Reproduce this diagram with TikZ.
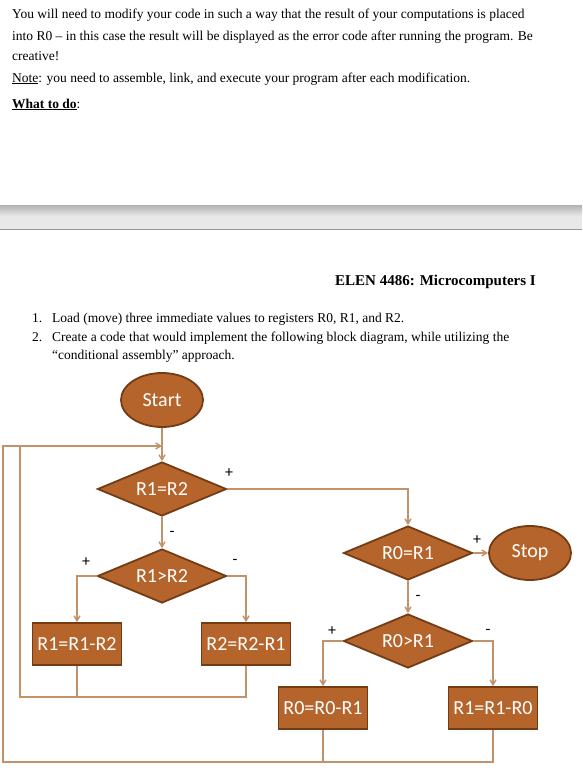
\documentclass[tikz,border=0pt]{standalone}
\usepackage{fontspec}
\setmainfont{Liberation Serif}
\newfontfamily\calfont{Carlito}
\usetikzlibrary{shapes.geometric,arrows.meta}
\definecolor{fillbrown}{RGB}{181,100,44}
\definecolor{edgebrown}{RGB}{115,60,18}
\definecolor{linebrown}{RGB}{196,146,104}
\begin{document}
\begin{tikzpicture}[x=1pt,y=-1pt,
  txt/.style={anchor=base west,inner sep=0pt,font=\fontsize{13.5}{16}\selectfont},
  shp/.style={draw=edgebrown,fill=fillbrown,line width=1.8pt,text=white,inner sep=0pt,font=\calfont\fontsize{20}{22}\selectfont},
  dia/.style={shp,diamond,aspect=2.4,minimum width=129pt,minimum height=54pt},
  ell/.style={shp,ellipse,minimum width=82pt,minimum height=54pt},
  boxx/.style={shp,rectangle,minimum width=89pt,minimum height=42pt},
  conn/.style={draw=linebrown,line width=1.4pt},
  arr/.style={conn,-{Straight Barb[length=5pt,width=6pt]}},
  sgn/.style={inner sep=0pt,font=\calfont\fontsize{16}{17}\selectfont}]
\useasboundingbox (0,0) rectangle (582,771);
% header text
\node[txt] (l1) at (12,19) {You will need to modify your code in such a way that the result of your computations is placed};
\node[txt] (l2) at (12,40) {into R0 -- in this case the result will be displayed as the error code after running the program. Be};
\node[txt] (l3) at (12,60) {creative!};
\node[txt] (l4) at (12,82) {\underline{Note}: you need to assemble, link, and execute your program after each modification.};
\node[txt] (l5) at (12,108) {\textbf{\underline{What to do}}:};
% gray band
\shade[top color=black!30,bottom color=black!9] (0,205) rectangle (582,216);
\fill[black!9] (0,216) rectangle (582,229);
\draw[black!40,line width=0.8pt] (0,229) -- (582,229);
% second page text
\node[txt,font=\bfseries\fontsize{15}{17}\selectfont] (title) at (335,285) {ELEN 4486: Microcomputers I};
\node[txt] (n1) at (32,322) {1.};
\node[txt] (i1) at (52,322) {Load (move) three immediate values to registers R0, R1, and R2.};
\node[txt] (n2) at (32,341) {2.};
\node[txt] (i2) at (52,341) {Create a code that would implement the following block diagram, while utilizing the};
\node[txt] (i3) at (52,359) {``conditional assembly'' approach.};
% flowchart
\node[ell] (start) at (162,400) {Start};
\node[dia] (d1) at (162,489) {R1=R2};
\node[dia] (dr) at (162,576) {R1>R2};
\node[boxx] (b1) at (77,644) {R1=R1-R2};
\node[boxx] (b2) at (246,644) {R2=R2-R1};
\node[dia] (d2) at (408,553) {R0=R1};
\node[ell] (stop) at (530,553) {Stop};
\node[dia] (d3) at (408,641) {R0>R1};
\node[boxx] (b3) at (323,708) {R0=R0-R1};
\node[boxx] (b4) at (493,708) {R1=R1-R0};
\coordinate (jin) at (162,446);
\coordinate (oL) at (3,762);
\coordinate (iL) at (20,697);
\draw[arr] (start) -- (d1);
\draw[arr] (d1) -- (dr);
\draw[arr] (dr.west) -| (b1.north);
\draw[arr] (dr.east) -| (b2.north);
\draw[arr] (d1.east) -| (d2.north);
\draw[arr] (d2) -- (stop);
\draw[arr] (d2) -- (d3);
\draw[arr] (d3.west) -| (b3.north);
\draw[arr] (d3.east) -| (b4.north);
\draw[conn] (b2.south) |- (iL) -- (iL |- jin);
\draw[conn] (b1.south) -- (b1.south |- iL);
\draw[conn] (b3.south) -- (b3.south |- oL);
\draw[arr] (b4.south) |- (oL) |- (jin);
% signs
\node[sgn] (s1) at (229,473) {+};
\node[sgn] (s2) at (172,534) {-};
\node[sgn] (s3) at (86,562) {+};
\node[sgn] (s4) at (235,562) {-};
\node[sgn] (s5) at (477,540) {+};
\node[sgn] (s6) at (418,598) {-};
\node[sgn] (s7) at (332,631) {+};
\node[sgn] (s8) at (488,632) {-};
\end{tikzpicture}
\end{document}
